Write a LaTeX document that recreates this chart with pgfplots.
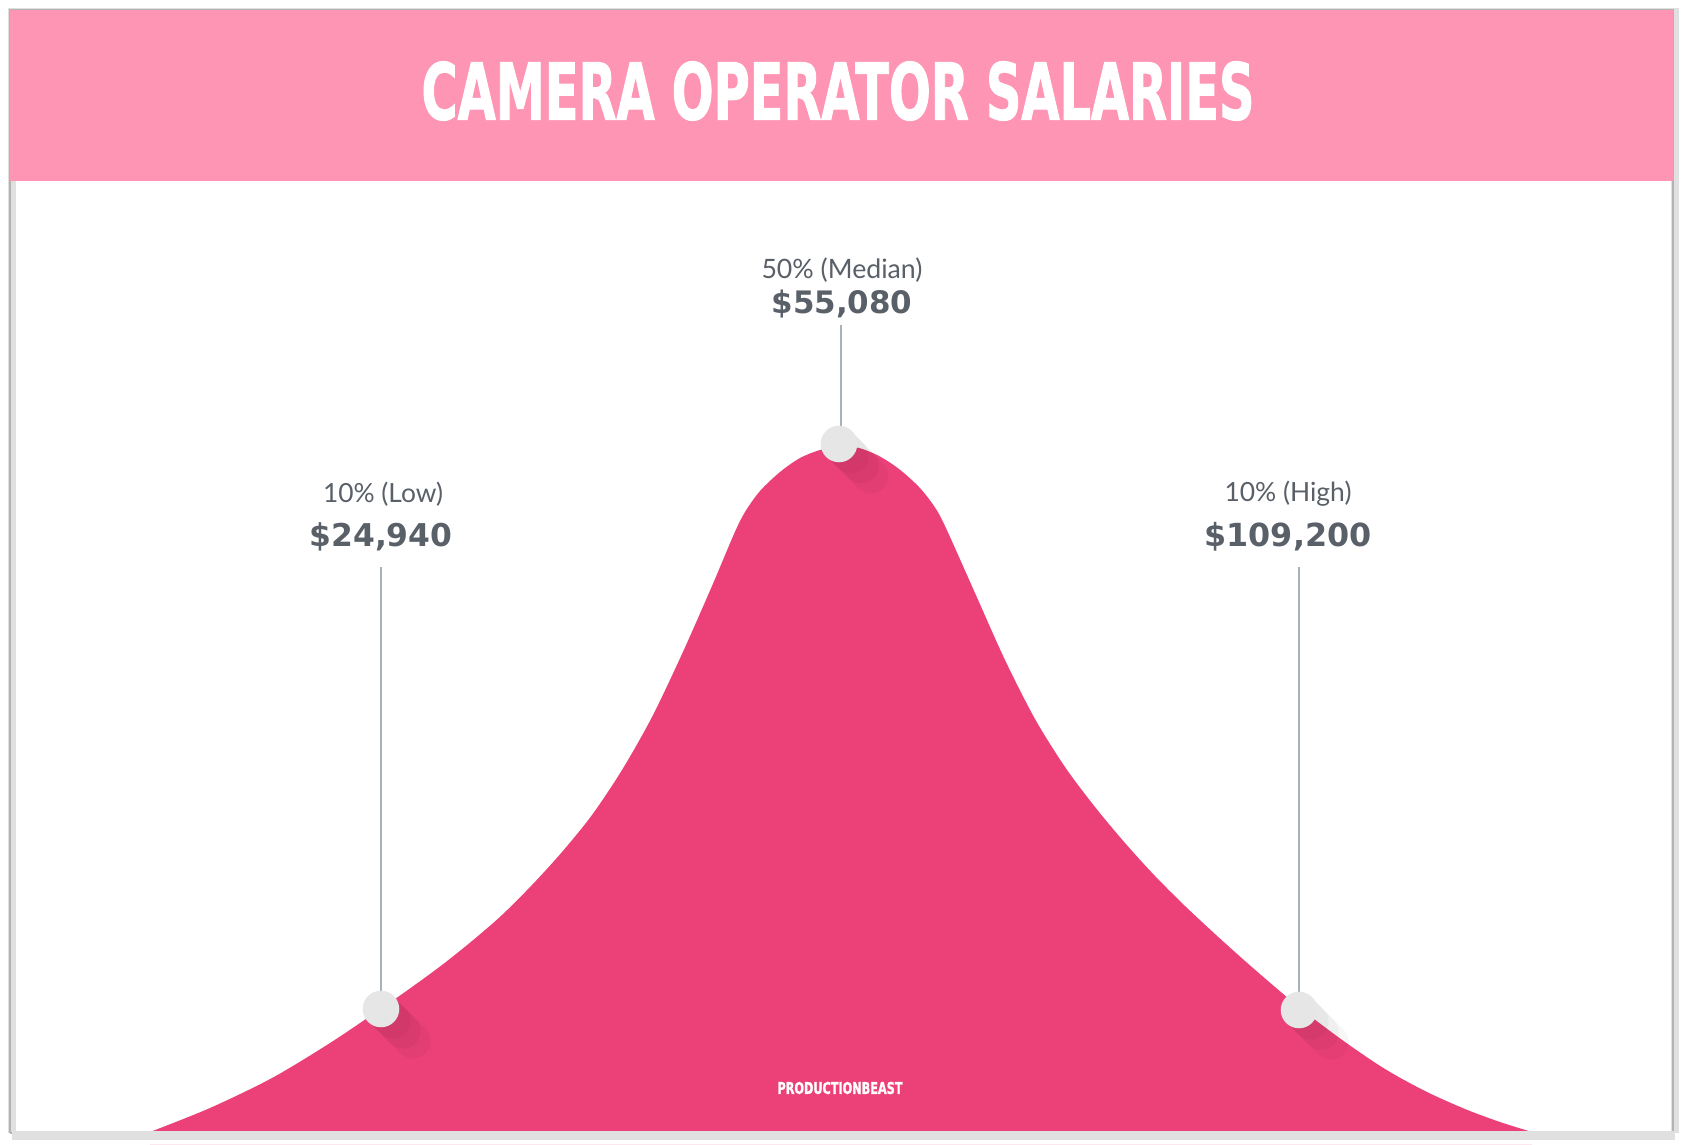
\documentclass[border=0pt]{standalone}
\usepackage{pgfplots}
\pgfplotsset{compat=1.18}
\usepackage{fontspec}
\usepackage{graphicx}
\setmainfont{Lato}
\newfontfamily\valfont{DejaVu Sans}
\newfontfamily\titlefont{DejaVu Sans Condensed}[FakeBold=1.5]
\definecolor{headpink}{HTML}{FF95B5}
\definecolor{curvepink}{HTML}{EC4178}
\definecolor{txtgray}{HTML}{596068}
\definecolor{leader}{HTML}{A9B2BC}
\definecolor{dot}{HTML}{E6E6E6}
\begin{document}
\begin{tikzpicture}
\begin{axis}[
  x=0.1mm, y=0.1mm,
  xmin=0, xmax=1684, ymin=0, ymax=1144,
  hide axis, clip=false,
]
% background and panel
\fill[white] (axis cs:0,0) rectangle (axis cs:1684,1144);
\draw[black!12, line width=2.5pt] (axis cs:12,9) rectangle (axis cs:1675,1132);
\draw[black!30, line width=0.7pt] (axis cs:10,11) rectangle (axis cs:1673,1134);
\fill[headpink] (axis cs:10,963) rectangle (axis cs:1673,1134);

% distribution curve
\addplot[fill=curvepink, draw=none, smooth, tension=0.5] coordinates {
(150,12) (210,36) (272,66) (330,101) (382,136) (412,157) (442,179) (472,203)
(502,229) (532,259) (562,292) (592,329) (622,374) (652,427) (682,490) (712,558)
(734,610) (745,632) (760,653) (780,672) (800,686) (820,694) (839,698)
(859,696) (879,688) (899,675) (919,657) (934,638) (945,618) (975,551) (1005,484)
(1035,425) (1065,377) (1095,337) (1125,301) (1155,268) (1185,238) (1215,210)
(1245,183) (1275,157) (1305,132) (1345,102) (1385,75) (1425,53) (1465,35)
(1500,22) (1532,12)
} \closedcycle;

% cover below panel
\fill[white] (axis cs:0,0) rectangle (axis cs:1684,10.6);
\draw[black!30, line width=0.7pt] (axis cs:10,11) -- (axis cs:1673,11);
\draw[black!12, line width=2.5pt] (axis cs:12,8.5) -- (axis cs:1675,8.5);

% leader lines
\addplot[leader, line width=0.8pt] coordinates {(381,577) (381,135)};
\addplot[leader, line width=0.8pt] coordinates {(841,819) (841,700)};
\addplot[leader, line width=0.8pt] coordinates {(1299,577) (1299,134)};

% long shadows (fading)
\addplot[black, opacity=0.035, line width=10pt, line cap=round] coordinates {(381,135) (393,123)};
\addplot[black, opacity=0.035, line width=10pt, line cap=round] coordinates {(381,135) (403,113)};
\addplot[black, opacity=0.035, line width=10pt, line cap=round] coordinates {(381,135) (413,103)};
\addplot[black, opacity=0.035, line width=10pt, line cap=round] coordinates {(839,700) (851,688)};
\addplot[black, opacity=0.035, line width=10pt, line cap=round] coordinates {(839,700) (861,678)};
\addplot[black, opacity=0.035, line width=10pt, line cap=round] coordinates {(839,700) (871,668)};
\addplot[black, opacity=0.03, line width=10pt, line cap=round] coordinates {(1299,134) (1311,122)};
\addplot[black, opacity=0.03, line width=10pt, line cap=round] coordinates {(1299,134) (1321,112)};
\addplot[black, opacity=0.03, line width=10pt, line cap=round] coordinates {(1299,134) (1331,102)};

% markers
\addplot[only marks, mark=*, mark size=5pt, mark options={fill=dot, draw=dot}] coordinates {(381,135) (839,700) (1299,134)};

% texts
\node at (axis cs:383,650) {\resizebox{1.20cm}{!}{\color{txtgray}10\% (Low)}};
\node at (axis cs:381,607) {\resizebox{1.43cm}{!}{\color{txtgray}\valfont\bfseries \$24,940}};
\node at (axis cs:842,874) {\resizebox{1.61cm}{!}{\color{txtgray}50\% (Median)}};
\node at (axis cs:842,840) {\resizebox{1.41cm}{!}{\color{txtgray}\valfont\bfseries \$55,080}};
\node at (axis cs:1288,650) {\resizebox{1.27cm}{!}{\color{txtgray}10\% (High)}};
\node at (axis cs:1288,607) {\resizebox{1.67cm}{!}{\color{txtgray}\valfont\bfseries \$109,200}};

\node at (axis cs:838,1053) {\resizebox{8.33cm}{0.58cm}{\color{white}\titlefont\bfseries CAMERA OPERATOR SALARIES}};
\node at (axis cs:840,56) {\resizebox{1.25cm}{0.12cm}{\color{white}\titlefont\bfseries PRODUCTIONBEAST}};
\end{axis}
\end{tikzpicture}
\end{document}
